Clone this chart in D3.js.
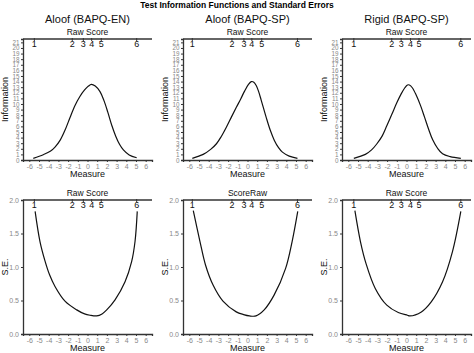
<!DOCTYPE html>
<html>
<head>
<meta charset="utf-8">
<script src="https://cdn.jsdelivr.net/npm/d3@7"></script>
<style>
  body { margin: 0; background: #fff; }
  text { font-family: "Liberation Sans", Arial, sans-serif; }
</style>
</head>
<body>
<div id="chart"></div>
<script>
const width = 474, height = 353;

const mainTitle = "Test Information Functions and Standard Errors";
const panelTitles = ["Aloof (BAPQ-EN)", "Aloof (BAPQ-SP)", "Rigid (BAPQ-SP)"];
const rawTitlesTop = ["Raw Score", "Raw Score", "Raw Score"];
const rawTitlesBottom = ["Raw Score", "ScoreRaw", "Raw Score"];
const rawLabels = ["1", "2", "3", "4", "5", "6"];
const xTicks = [-6, -5, -4, -3, -2, -1, 0, 1, 2, 3, 4, 5, 6];
const infoTicks = d3.range(0, 22);
const seTicks = [0, 0.5, 1.0, 1.5, 2.0];

// raw score positions on the measure scale
const rawPosEN    = [-5.48, -1.57, -0.43, 0.43, 1.42, 5.07];
const rawPosSP    = [-5.69, -1.60, -0.37, 0.45, 1.47, 5.15];
const rawPosRigid = [-5.43, -1.52, -0.55, 0.41, 1.29, 5.60];

// test information
const infoXEN = [-5.59, -4.56, -3.8, -3.35, -2.8, -2.3, -1.8, -1.3, -0.8, -0.3, 0.1, 0.4, 0.8, 1.29, 1.7, 2.1, 2.5, 2.9, 3.3, 3.7, 4.3, 5.07];
const infoEN  = [0.3, 0.95, 1.6, 2.3, 3.6, 5.4, 7.6, 9.7, 11.3, 12.5, 13.2, 13.5, 13.2, 12.2, 10.6, 8.5, 6.2, 4.3, 2.8, 1.8, 0.9, 0.4];

const infoXSP = [-5.69, -4.57, -3.8, -3.2, -2.7, -2.18, -1.65, -1.15, -0.7, -0.3, 0.1, 0.4, 0.65, 0.9, 1.15, 1.41, 1.92, 2.35, 2.77, 3.2, 3.6, 4.3, 5.15];
const infoSP  = [0.3, 1.0, 1.9, 2.9, 4.2, 5.85, 7.7, 9.4, 10.9, 12.3, 13.5, 14.0, 13.9, 13.3, 12.2, 10.7, 7.65, 5.3, 3.5, 2.2, 1.4, 0.7, 0.3];

const infoXRigid = [-5.43, -4.24, -3.6, -3.05, -2.5, -2.03, -1.5, -1.0, -0.55, -0.17, 0.1, 0.3, 0.6, 1.02, 1.45, 1.86, 2.3, 2.7, 3.2, 3.72, 4.5, 5.6];
const infoRigid  = [0.3, 1.0, 1.8, 2.9, 4.3, 6.1, 8.2, 10.2, 11.8, 12.9, 13.4, 13.4, 12.9, 11.5, 9.7, 7.65, 5.4, 3.6, 2.1, 1.1, 0.6, 0.3];

// standard errors
const seXEN = [-5.4, -4.9, -4.4, -3.9, -3.35, -2.32, -1.11, -0.3, 0.26, 0.95, 1.5, 1.98, 2.84, 3.87, 4.55, 4.9, 5.13];
const seEN  = [1.83, 1.38, 1.1, 0.88, 0.71, 0.49, 0.36, 0.30, 0.28, 0.27, 0.30, 0.36, 0.51, 0.78, 1.08, 1.38, 1.83];

const seXSP = [-5.59, -4.9, -4.33, -3.55, -2.53, -1.16, -0.4, 0.2, 0.88, 1.72, 2.74, 3.93, 4.6, 5.18];
const seSP  = [1.84, 1.38, 1.03, 0.73, 0.49, 0.33, 0.29, 0.27, 0.27, 0.36, 0.58, 0.98, 1.38, 1.83];

const seXRigid = [-5.32, -4.75, -4.17, -3.22, -2.03, -0.85, 0.1, 0.34, 1.53, 2.55, 3.72, 4.74, 5.6];
const seRigid  = [1.84, 1.38, 1.05, 0.68, 0.43, 0.32, 0.28, 0.27, 0.33, 0.48, 0.78, 1.23, 1.83];

const rawPos = [rawPosEN, rawPosSP, rawPosRigid];
const infoX = [infoXEN, infoXSP, infoXRigid];
const infoY = [infoEN, infoSP, infoRigid];
const seX = [seXEN, seXSP, seXRigid];
const seY = [seEN, seSP, seRigid];

const svg = d3.select('#chart').append('svg')
  .attr('width', width).attr('height', height);

svg.append('text')
  .attr('x', 237).attr('y', 8)
  .attr('text-anchor', 'middle')
  .attr('font-size', 8.5).attr('font-weight', 'bold')
  .text(mainTitle);

const panelLeft = [23, 183, 342];
const panelW = 129;
const tickGrey = '#888';
const axisCol = '#333';

function drawPanel(i, row) {
  const left = panelLeft[i];
  const top = row === 0 ? 39 : 200;
  const bottom = row === 0 ? 160 : 334;
  const x = d3.scaleLinear().domain([-6.65, 6.65]).range([left, left + panelW]);
  const y = row === 0
    ? d3.scaleLinear().domain([0, 21.6]).range([bottom, top])
    : d3.scaleLinear().domain([0, 2]).range([bottom, top]);
  const g = svg.append('g');

  // bottom axis
  const xAxis = g.append('g').attr('transform', `translate(0,${bottom})`)
    .call(d3.axisBottom(x).tickValues(xTicks).tickSize(2).tickPadding(2).tickFormat(d3.format('d')));
  xAxis.select('.domain').attr('stroke', axisCol).attr('stroke-width', 1.3);
  xAxis.selectAll('.tick line').attr('stroke', axisCol);
  xAxis.selectAll('.tick text').attr('fill', tickGrey).attr('font-size', 7)
    .text(d => d < 0 ? '-' + Math.abs(d) : d);

  // left axis
  const yAxis = g.append('g').attr('transform', `translate(${left},0)`)
    .call(row === 0
      ? d3.axisLeft(y).tickValues(infoTicks).tickSize(2).tickPadding(1.5).tickFormat(d3.format('d'))
      : d3.axisLeft(y).tickValues(seTicks).tickSize(2).tickPadding(2).tickFormat(d3.format('.1f')));
  yAxis.select('.domain').attr('stroke', axisCol).attr('stroke-width', 1.3);
  yAxis.selectAll('.tick line').attr('stroke', axisCol);
  yAxis.selectAll('.tick text').attr('fill', tickGrey).attr('font-size', row === 0 ? 6.3 : 7);

  // raw score axis on top
  g.append('line')
    .attr('x1', left).attr('x2', left + panelW)
    .attr('y1', top).attr('y2', top)
    .attr('stroke', axisCol).attr('stroke-width', 1.3);
  const raw = g.append('g');
  raw.selectAll('line').data(rawPos[i]).join('line')
    .attr('x1', d => x(d)).attr('x2', d => x(d))
    .attr('y1', top - 1).attr('y2', top + 2)
    .attr('stroke', axisCol);
  raw.selectAll('text').data(rawPos[i]).join('text')
    .attr('x', d => x(d)).attr('y', top + 8)
    .attr('text-anchor', 'middle')
    .attr('font-size', 9).attr('fill', '#111')
    .text((d, k) => rawLabels[k]);

  g.append('text')
    .attr('x', left + panelW / 2).attr('y', top - 4)
    .attr('text-anchor', 'middle').attr('font-size', 8.5).attr('fill', '#111')
    .text(row === 0 ? rawTitlesTop[i] : rawTitlesBottom[i]);

  if (row === 0) {
    g.append('text')
      .attr('x', left + panelW / 2).attr('y', 23)
      .attr('text-anchor', 'middle').attr('font-size', 11).attr('fill', '#111')
      .text(panelTitles[i]);
  }

  // axis titles
  g.append('text')
    .attr('x', left + panelW / 2).attr('y', bottom + 17)
    .attr('text-anchor', 'middle').attr('font-size', 9).attr('fill', '#111')
    .text('Measure');
  const yl = row === 0 ? 'Information' : 'S.E.';
  const ym = (top + bottom) / 2;
  g.append('text')
    .attr('transform', `translate(${left - 15},${ym}) rotate(-90)`)
    .attr('text-anchor', 'middle').attr('font-size', 9).attr('fill', '#111')
    .text(yl);

  // curve
  const xs = row === 0 ? infoX[i] : seX[i];
  const ys = row === 0 ? infoY[i] : seY[i];
  const pts = xs.map((v, k) => [v, ys[k]]);
  g.append('path')
    .datum(pts)
    .attr('fill', 'none').attr('stroke', '#111').attr('stroke-width', 1.2)
    .attr('d', d3.line().x(d => x(d[0])).y(d => y(d[1])).curve(d3.curveCatmullRom));
}

for (let r = 0; r < 2; r++) {
  for (let i = 0; i < 3; i++) drawPanel(i, r);
}
</script>
</body>
</html>
